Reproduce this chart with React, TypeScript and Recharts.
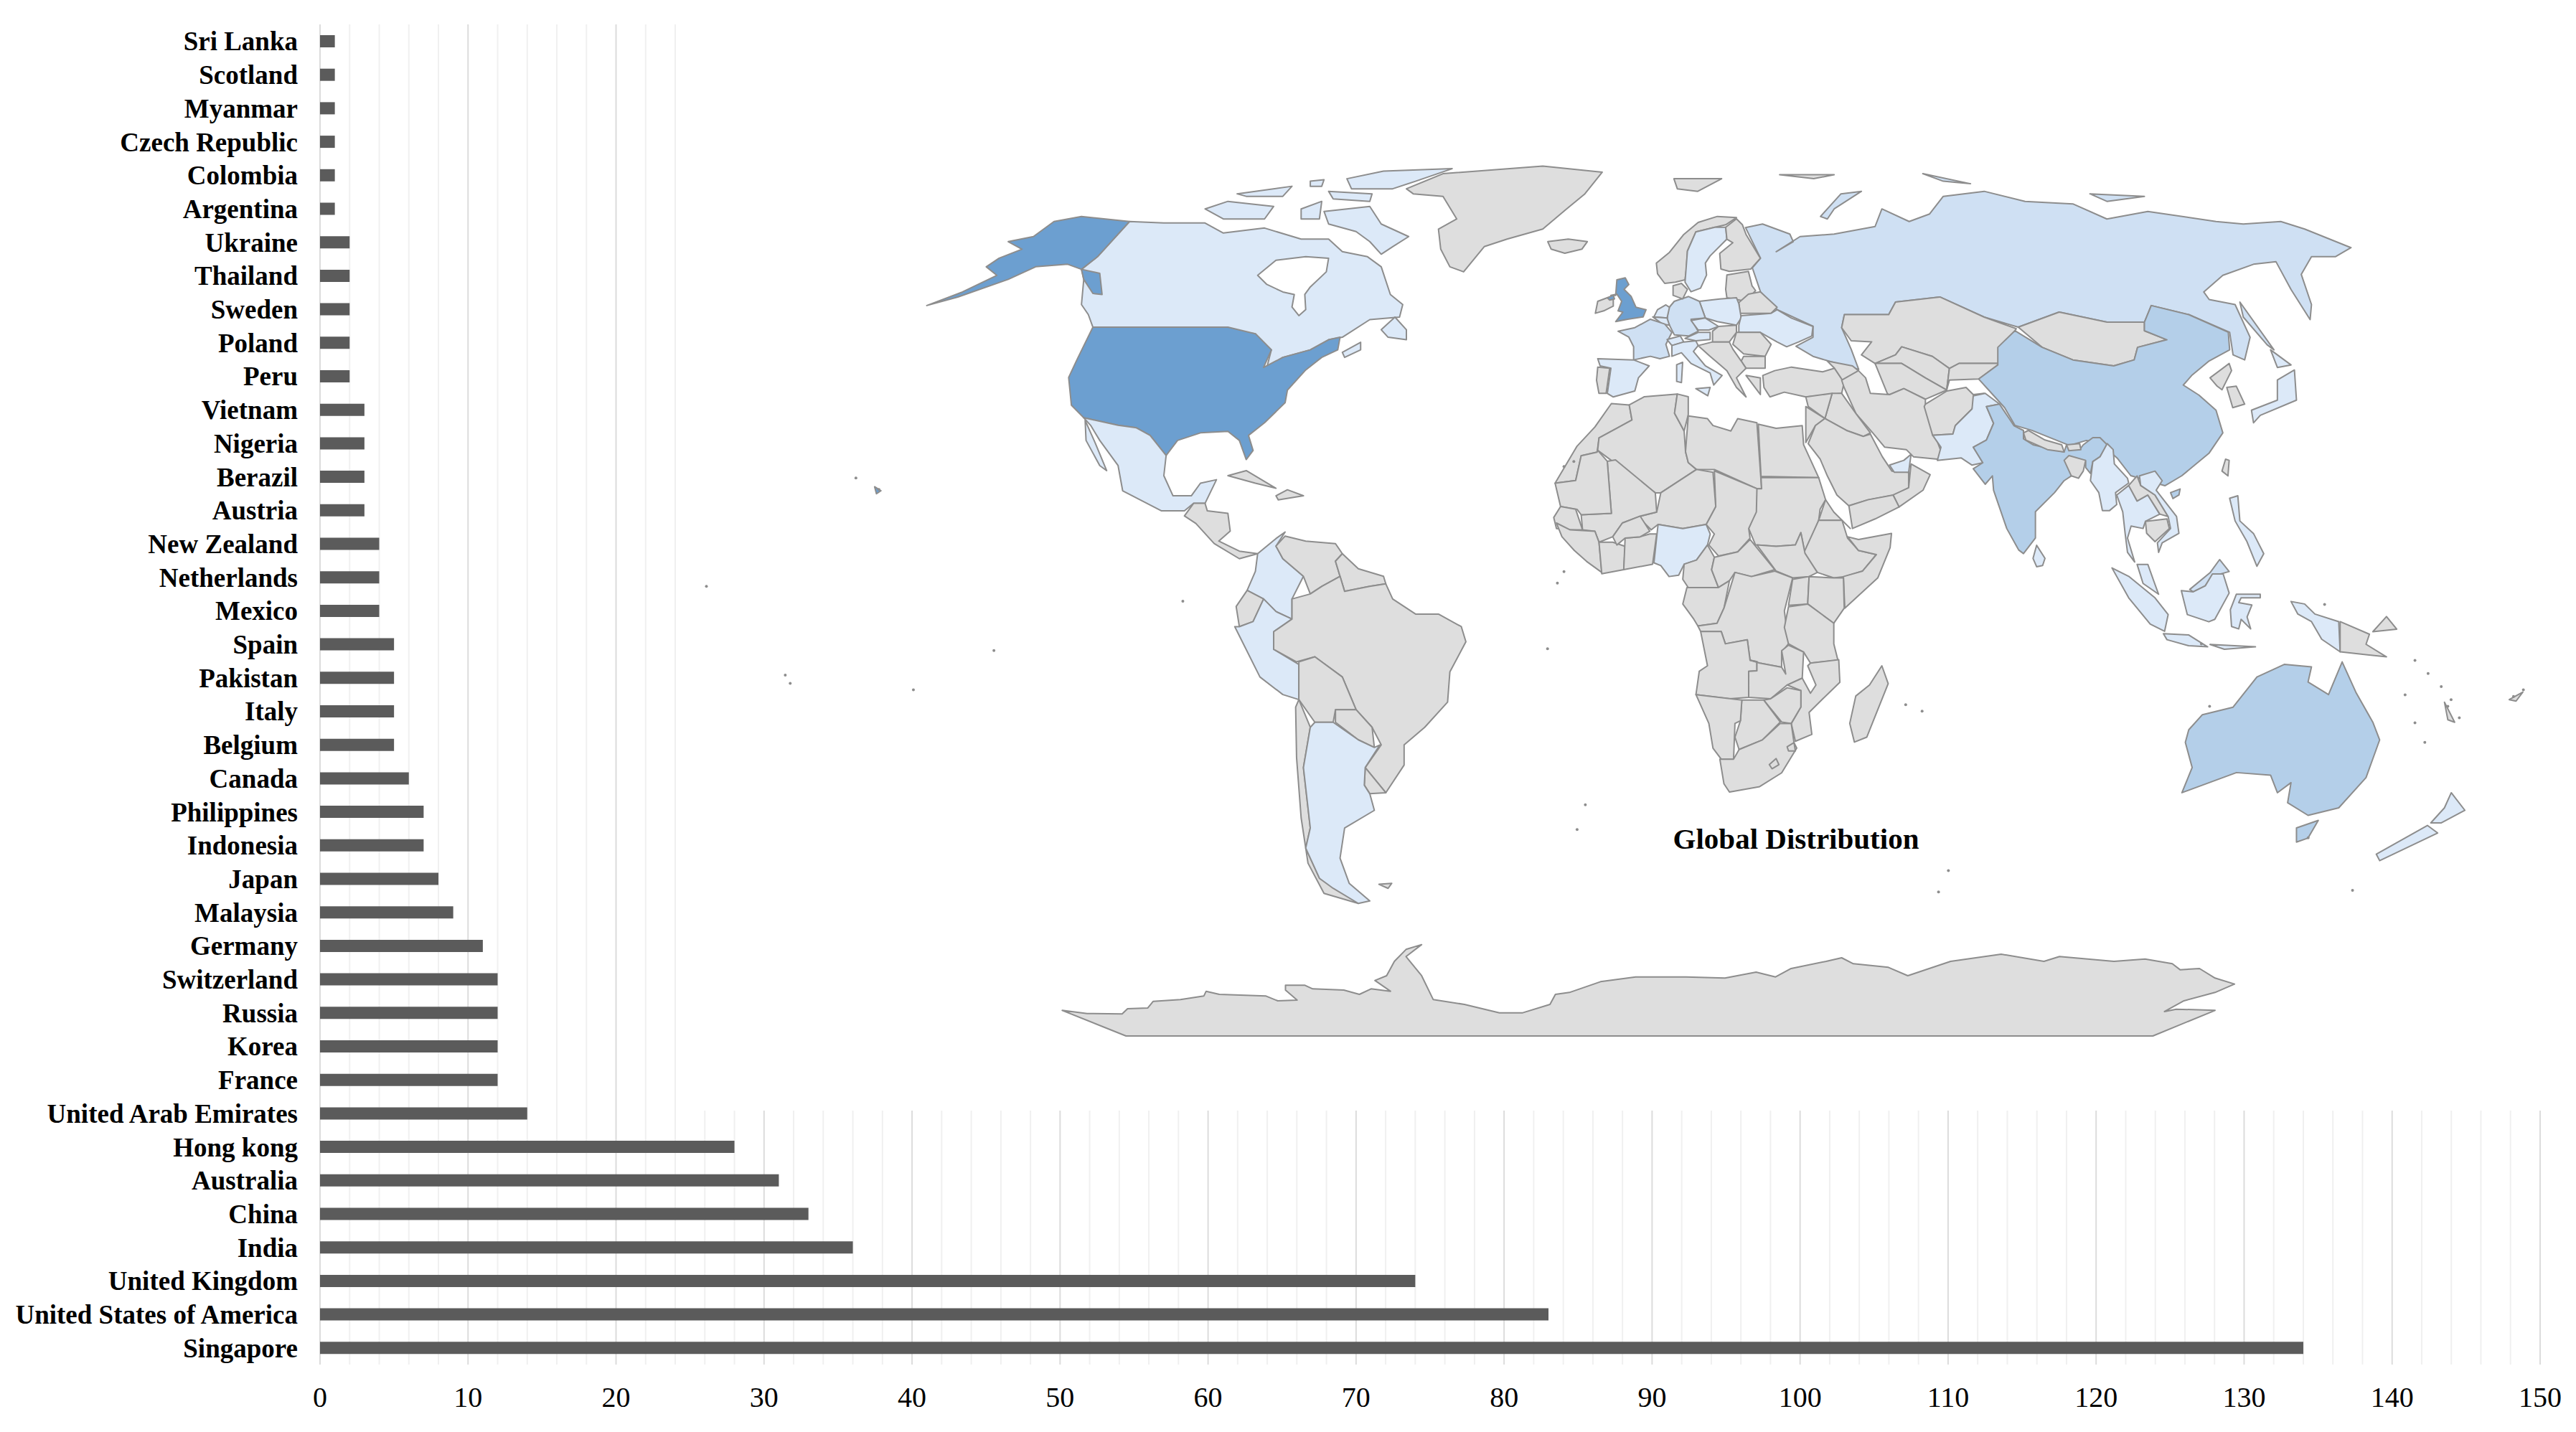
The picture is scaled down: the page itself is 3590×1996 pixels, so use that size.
import { Bar, BarChart, CartesianGrid, XAxis, YAxis } from "recharts";

const countries = [
  "Sri Lanka", "Scotland", "Myanmar", "Czech Republic", "Colombia", "Argentina", "Ukraine", "Thailand",
  "Sweden", "Poland", "Peru", "Vietnam", "Nigeria", "Berazil", "Austria", "New Zealand", "Netherlands",
  "Mexico", "Spain", "Pakistan", "Italy", "Belgium", "Canada", "Philippines", "Indonesia", "Japan",
  "Malaysia", "Germany", "Switzerland", "Russia", "Korea", "France", "United Arab Emirates", "Hong kong",
  "Australia", "China", "India", "United Kingdom", "United States of America", "Singapore",
];
const counts = [
  1, 1, 1, 1, 1, 1, 2, 2, 2, 2, 2, 3, 3, 3, 3, 4, 4, 4, 5, 5, 5, 5, 6, 7, 7, 8, 9, 11, 12, 12, 12, 12, 14,
  28, 31, 33, 36, 74, 83, 134,
];
const majorTicks = [0, 10, 20, 30, 40, 50, 60, 70, 80, 90, 100, 110, 120, 130, 140, 150];
const minorTicks = [
  2, 4, 6, 8, 12, 14, 16, 18, 22, 24, 26, 28, 32, 34, 36, 38, 42, 44, 46, 48, 52, 54, 56, 58, 62, 64, 66, 68,
  72, 74, 76, 78, 82, 84, 86, 88, 92, 94, 96, 98, 102, 104, 106, 108, 112, 114, 116, 118, 122, 124, 126, 128,
  132, 134, 136, 138, 142, 144, 146, 148,
];

const rows = countries.map((name, i) => ({ name, count: counts[i] }));

// map colours
const G = "#dedede";
const L = "#dce9f8";
const M = "#cfe0f3";
const D = "#b4cfe9";
const U = "#6c9fd0";
const W = "#ffffff";

// outlines are traced by hand, each list in the pixel space of one crop of the map
const americas: [string, string][] = [
  [G, "1270,90 1350,60 1568,45 1698,57 1660,100 1620,130 1568,170 1490,190 1440,205 1395,255 1365,245 1345,210 1340,170 1380,150 1350,105 1285,100"],
  [L, "665,155 740,158 830,158 870,178 960,168 1040,190 1100,190 1130,215 1185,225 1215,245 1235,300 1262,320 1255,345 1190,350 1130,385 1100,390 1060,410 1000,425 965,445 975,410 940,378 880,370 880,365 585,365 575,340 560,320 565,270 560,250 595,225"],
  [W, "945,262 985,232 1050,225 1100,228 1095,255 1060,285 1048,300 1050,330 1035,342 1020,325 1025,300 1000,295 965,280"],
  [L, "1090,135 1190,125 1215,160 1275,185 1240,205 1215,220 1190,195 1160,175 1100,160"],
  [L, "1140,70 1220,55 1370,50 1290,75 1240,90 1150,90"],
  [L, "830,130 880,115 980,125 960,150 870,150"],
  [L, "1040,130 1085,115 1080,150 1040,150"],
  [L, "900,100 1020,85 1000,105 920,105"],
  [L, "1060,75 1090,72 1085,85 1060,85"],
  [L, "1100,95 1195,100 1190,115 1110,110"],
  [L, "1215,370 1245,345 1270,370 1270,390 1230,385"],
  [L, "1130,415 1170,395 1170,410 1135,425"],
  [U, "665,155 560,145 500,155 455,185 400,195 430,210 380,228 352,245 375,262 300,295 222,322 290,305 400,270 460,245 530,240 560,250 595,225"],
  [U, "560,250 600,258 605,300 585,298 565,270"],
  [U, "585,365 880,365 940,378 975,410 958,445 1000,425 1060,410 1100,390 1125,385 1120,410 1085,425 1050,450 1010,490 1005,515 960,555 925,580 935,610 920,628 905,590 880,572 820,575 770,590 745,620 710,580 680,565 640,560 565,545 538,520 532,465 550,430"],
  [U, "108,682 122,690 112,696"],
  [L, "565,545 640,560 680,565 710,580 745,620 740,660 760,700 800,700 820,675 855,668 830,715 805,715 785,730 735,730 650,690 640,640 600,590 580,560"],
  [L, "568,550 590,595 615,650 600,640 570,590"],
  [G, "785,740 805,715 830,715 835,730 880,735 885,770 860,790 905,810 945,815 905,825 850,795 810,755"],
  [G, "880,660 920,650 985,685 940,675"],
  [G, "985,700 1010,688 1045,700 990,708"],
  [L, "945,815 985,785 1005,772 985,800 1000,825 1045,860 1020,905 1020,945 985,930 958,905 922,888 940,850"],
  [G, "985,800 1005,780 1050,790 1115,795 1130,815 1115,830 1125,860 1085,880 1060,895 1045,860 1000,825"],
  [G, "1115,830 1130,815 1165,845 1220,860 1225,875 1190,880 1135,890 1125,860"],
  [G, "922,888 958,905 935,950 905,960 898,920"],
  [L, "905,960 935,950 958,905 985,930 1020,945 980,970 980,1005 1035,1035 1035,1105 1000,1095 950,1060 895,960"],
  [G, "1020,905 1060,895 1085,880 1125,860 1135,890 1190,880 1225,875 1240,905 1290,935 1340,935 1390,960 1400,990 1365,1050 1360,1110 1310,1160 1265,1195 1265,1235 1225,1290 1180,1240 1215,1195 1195,1160 1160,1125 1130,1060 1070,1020 1030,1030 980,1005 980,970 1020,945"],
  [G, "1035,1030 1070,1020 1130,1060 1160,1125 1115,1125 1110,1150 1070,1150 1035,1105"],
  [G, "1115,1125 1160,1125 1195,1160 1200,1200 1165,1185 1115,1150"],
  [G, "1180,1240 1225,1290 1190,1292 1178,1275"],
  [G, "1035,1105 1060,1160 1045,1240 1060,1360 1050,1400 1080,1460 1165,1510 1090,1490 1055,1430 1040,1340 1030,1220 1028,1120"],
  [L, "1070,1150 1110,1150 1165,1185 1200,1200 1212,1195 1180,1240 1178,1275 1190,1292 1200,1325 1135,1360 1125,1420 1145,1470 1190,1505 1165,1510 1110,1480 1080,1460 1050,1400 1060,1360 1045,1240 1060,1160"],
  [G, "1210,1472 1238,1470 1230,1480"],
];

const northAsiaOceania: [string, string][] = [
  [G, "60,195 90,190 118,195 110,210 85,218 65,210"],
  [G, "245,70 315,70 280,95 250,90"],
  [G, "400,62 480,62 450,70"],
  [M, "350,167 375,160 415,180 420,195 395,215 430,185 480,180 540,165 550,130 590,155 620,140 640,105 700,95 760,115 830,120 880,150 940,135 1040,155 1080,160 1135,155 1170,170 1238,207 1215,225 1180,225 1165,260 1180,320 1178,350 1150,290 1128,235 1095,240 1050,262 1022,295 1030,310 1068,320 1090,385 1082,430 1065,420 1060,375 1000,340 945,322 935,355 880,355 810,335 750,365 700,345 635,305 570,315 560,340 495,340 491,366 505,409 516,449 471,432 449,423 424,403 449,385 449,363 396,330 372,295 360,247 372,228"],
  [M, "460,145 490,100 520,95 480,130 470,150"],
  [M, "610,60 680,80 640,75"],
  [M, "855,100 935,105 880,115"],
  [M, "1075,315 1125,410 1115,400 1080,345"],
  [G, "495,340 560,340 570,315 635,305 700,345 747,368 726,413 723,437 663,437 649,447 624,423 579,404 570,420 540,437 520,420 535,394 505,392 491,366"],
  [G, "540,437 570,420 579,404 624,423 649,447 645,490 614,466 579,437"],
  [G, "540,437 579,437 614,466 645,490 614,508 582,487 561,499 558,497"],
  [G, "649,447 663,437 723,437 692,468 649,470 645,490"],
  [G, "750,365 810,335 880,355 935,355 935,372 968,390 925,405 920,430 890,442 830,430 785,405"],
  [D, "692,468 720,440 720,405 745,372 785,405 830,430 890,442 920,430 925,405 968,390 935,372 935,355 945,322 1000,340 1058,375 1060,410 1030,432 1005,460 992,480 1015,500 1040,530 1050,575 1030,615 990,660 965,680 915,660 895,625 870,595 850,590 825,600 770,570 745,560 730,525 710,495"],
  [L, "1060,705 1072,700 1075,750 1095,775 1110,815 1100,840 1085,790 1068,750"],
  [L, "1130,470 1155,450 1158,510 1105,540 1095,555 1092,530 1130,510"],
  [L, "1120,410 1150,440 1130,445"],
  [L, "1150,910 1170,915 1185,935 1220,950 1222,1010 1195,985 1180,950 1160,935"],
  [G, "1222,950 1265,975 1260,995 1290,1020 1222,1010"],
  [G, "1290,940 1305,965 1270,970"],
  [D, "1000,1165 1020,1135 1065,1120 1100,1060 1140,1035 1180,1040 1175,1070 1205,1095 1225,1030 1245,1090 1270,1150 1280,1185 1260,1260 1220,1320 1175,1335 1145,1310 1150,1270 1130,1290 1120,1255 1070,1250 990,1290 1005,1240 995,1190"],
  [D, "1158,1360 1190,1345 1175,1380 1158,1388"],
  [L, "1385,1290 1405,1325 1370,1350 1355,1350 1375,1320"],
  [L, "1350,1355 1365,1370 1280,1425 1275,1412"],
  [G, "1470,1105 1490,1090 1480,1108"],
  [G, "1375,1110 1390,1150 1380,1145"],
];

const europeMideast: [string, string][] = [
  [G, "10,410 20,360 60,345 85,345 85,380 45,400"],
  [U, "75,335 95,335 100,270 135,262 150,290 130,310 160,340 180,385 222,395 210,425 145,435 95,445 125,405 105,400 120,360 100,330"],
  [U, "60,345 85,335 90,350 70,355"],
  [G, "265,200 320,155 380,80 440,30 520,5 600,10 555,40 510,50 430,70 395,150 390,230 385,270 345,280 300,285 270,245"],
  [L, "430,70 510,50 555,50 560,100 490,170 470,200 475,250 450,305 410,320 385,280 395,150"],
  [G, "555,50 600,15 625,40 640,80 700,180 660,225 570,235 535,225 530,160 585,115 560,100"],
  [G, "560,250 650,235 665,295 680,315 640,360 560,345 555,310"],
  [G, "610,365 650,330 700,320 770,385 745,410 615,410"],
  [L, "445,360 530,350 600,345 610,370 620,430 600,460 520,445 470,430"],
  [M, "340,360 400,340 445,360 470,430 410,435 440,485 400,505 340,500 310,440 315,390"],
  [G, "335,295 370,285 395,310 375,350 335,335"],
  [L, "270,395 305,375 320,385 310,430 255,425"],
  [L, "250,425 310,430 320,460 290,455"],
  [M, "105,485 175,470 240,435 300,455 330,490 305,540 320,590 280,600 240,590 170,605 170,550 150,510"],
  [L, "20,600 170,605 235,630 190,680 175,735 85,760 60,745 75,640 30,630"],
  [G, "20,635 70,640 55,745 25,745 15,690"],
  [L, "310,520 365,505 380,530 330,545"],
  [L, "330,545 380,530 430,525 440,545 420,570 470,630 540,670 505,710 490,660 410,620 370,575 330,590"],
  [L, "430,725 490,720 480,755"],
  [L, "350,625 375,615 370,700 350,695"],
  [L, "385,515 440,490 490,490 490,520 430,525"],
  [L, "410,440 470,430 525,465 485,480 440,480"],
  [G, "500,485 525,465 600,460 600,490 570,530 500,530"],
  [L, "610,460 620,420 745,410 770,395 830,430 920,465 915,505 860,530 810,550 770,530 700,490 610,490"],
  [G, "600,490 700,490 745,540 720,590 630,580 585,540"],
  [G, "630,590 720,590 720,640 640,640 620,610"],
  [G, "440,545 500,530 570,530 585,560 620,610 640,640 600,680 640,760 600,720 560,650 490,590"],
  [G, "640,670 700,680 700,750 670,710"],
  [G, "710,670 760,650 830,635 960,655 1010,640 1050,700 1040,745 890,760 800,740 740,760 715,720"],
  [G, "980,610 1085,630 1110,650 1050,700 1010,640"],
  [G, "1040,690 1110,650 1140,680 1160,745 1240,750 1300,725 1390,770 1390,800 1430,920 1460,1000 1440,1020 1340,1010 1310,980 1220,970 1170,910 1100,830 1050,720"],
  [G, "1000,745 1040,745 1100,830 1160,910 1130,925 1060,900 970,850"],
  [G, "890,760 1000,745 970,850 900,800"],
  [G, "890,800 970,850 930,880 890,950"],
  [G, "900,955 930,880 970,850 1060,900 1130,925 1160,915 1210,1010 1250,1070 1320,1075 1320,1140 1260,1170 1150,1190 1070,1215 1020,1170 980,1090 950,1020"],
  [L, "1240,1045 1300,1025 1330,1000 1320,1075 1260,1075"],
  [G, "1330,1040 1410,1085 1380,1150 1280,1220 1255,1170 1320,1140"],
  [G, "1070,1215 1150,1190 1255,1170 1280,1220 1180,1270 1085,1310"],
];

const southAsia: [string, string][] = [
  [G, "100,340 190,285 270,270 300,300 345,295 305,320 295,360 225,430 215,465 130,470 95,350"],
  [L, "130,470 215,465 225,430 295,360 300,305 350,295 410,340 355,350 385,420 355,490 300,520 340,585 295,595 250,565 150,575 165,520"],
  [D, "355,350 410,340 450,400 470,430 510,450 510,485 550,510 680,540 690,510 745,530 760,510 800,480 830,480 860,510 830,560 800,580 790,630 770,605 770,580 700,560 710,640 680,660 640,710 560,790 560,900 510,965 490,950 440,860 385,700 380,640 350,675 300,610 340,585 300,520 355,490 385,420"],
  [G, "510,460 530,450 600,490 670,510 680,540 610,530 520,490"],
  [G, "690,510 745,505 750,530 700,535"],
  [G, "680,575 700,555 770,575 760,620 740,650 710,640"],
  [L, "790,660 800,580 830,560 860,505 885,530 890,590 945,650 950,670 895,710 900,760 870,785 840,785 825,710"],
  [L, "900,720 950,680 985,745 1030,720 1080,800 1020,830 1010,860 960,850 945,900 975,1000 945,960 935,880 925,790"],
  [L, "985,1010 1030,1010 1055,1080 1075,1135 1010,1090"],
  [G, "950,680 985,640 1000,680 1060,720 1115,810 1080,800 1030,720 985,745"],
  [L, "995,640 1060,620 1090,660 1065,700 1150,810 1160,880 1090,920 1075,960 1070,920 1125,860 1115,810 1060,720 1000,680"],
  [G, "1020,830 1110,820 1120,860 1060,915 1025,880"],
  [D, "1125,710 1165,695 1160,720 1135,735"],
  [L, "565,930 600,985 590,1015 565,1020 550,985"],
  [G, "1290,230 1370,170 1380,200 1350,260 1340,280 1320,265"],
  [G, "1360,270 1400,265 1435,340 1385,355"],
  [G, "1355,570 1370,575 1365,640 1340,620"],
  [L, "880,1025 950,1060 1060,1150 1115,1220 1100,1290 1040,1260 950,1150"],
  [L, "1095,1300 1200,1305 1280,1355 1200,1350 1110,1325"],
  [L, "1290,1345 1480,1355 1350,1365"],
  [M, "1205,1115 1290,1045 1330,990 1370,1040 1300,1060 1270,1100 1220,1125"],
  [L, "1170,1120 1220,1125 1270,1100 1300,1050 1345,1050 1370,1130 1310,1240 1285,1250 1195,1220"],
  [L, "1400,1135 1500,1135 1500,1150 1420,1150 1410,1170 1465,1180 1445,1230 1460,1280 1420,1240 1410,1280 1380,1270 1375,1200"],
];

const africa: [string, string][] = [
  [G, "45,375 125,240 190,170 250,85 315,90 325,145 270,175 205,210 198,262 140,275 120,365"],
  [G, "205,210 270,175 325,145 315,90 370,60 490,50 480,120 515,185 520,260 530,300 560,325 430,410 410,410 200,255"],
  [G, "490,50 530,60 530,125 515,185 480,120"],
  [G, "530,130 600,140 620,165 685,185 710,140 780,155 797,395 780,395 625,325 560,325 530,300 520,260"],
  [G, "785,160 850,175 945,165 950,235 1005,355 795,350"],
  [G, "795,355 1005,355 1030,435 1010,470 1005,510 955,630 940,555 920,600 850,605 775,600 750,540 775,480 777,395 797,395"],
  [G, "1030,435 1060,480 1120,540 1090,510 1005,510"],
  [G, "1005,510 1090,510 1110,575 1150,620 1215,635 1165,695 1100,715 1060,720 1000,700 950,630"],
  [G, "1110,570 1150,580 1270,558 1265,610 1220,720 1100,830 1095,715 1165,695 1215,635 1150,620"],
  [G, "780,600 850,605 920,600 940,555 955,630 1000,700 970,715 910,720 850,695"],
  [G, "625,330 780,395 778,480 750,540 755,575 710,625 640,640 605,600 625,560 595,525 630,460"],
  [G, "430,410 560,325 620,335 630,460 595,525 510,540 420,525 395,545 360,510 355,495 415,480"],
  [G, "140,490 250,485 235,295 265,290 410,410 415,480 355,495 290,520 255,570 205,590 190,550 145,545"],
  [G, "45,375 120,365 140,275 198,262 200,255 235,295 250,485 140,490 125,470 65,460"],
  [G, "40,500 65,460 120,470 145,545 100,545 50,540"],
  [G, "50,520 100,545 190,550 205,590 215,700 160,660 115,620 70,570"],
  [G, "205,590 255,590 300,605 295,690 215,705"],
  [G, "300,575 355,570 390,560 415,560 400,670 295,690"],
  [G, "255,570 290,520 355,495 390,550 355,570 300,575 270,600"],
  [L, "420,525 510,540 595,525 610,560 600,600 560,655 515,670 495,710 460,715 430,675 405,665"],
  [G, "515,670 560,655 600,600 625,645 615,690 640,755 530,755 510,725"],
  [G, "625,645 710,625 755,580 845,690 760,715 700,700 680,730 640,755 615,690"],
  [G, "525,755 640,755 680,730 660,830 635,885 565,895 550,870 510,815"],
  [G, "700,700 760,715 845,695 910,720 880,840 895,960 870,990 870,1045 790,1030 755,1020 745,945 665,960 650,915 575,915 565,895 635,885 660,830"],
  [G, "910,725 970,715 965,815 895,820"],
  [G, "970,715 1060,720 1095,720 1098,830 1060,885 965,815"],
  [G, "895,825 965,815 1060,885 1060,960 1075,1020 975,1030 950,990 895,960 880,900"],
  [G, "575,915 650,915 665,960 745,945 755,1020 780,1025 780,1058 750,1060 750,1155 680,1160 558,1145 570,1060 600,1040"],
  [G, "755,1020 790,1030 870,1045 885,1070 870,985 895,965 950,990 945,1085 890,1110 830,1160 750,1155 750,1060 780,1058 780,1025"],
  [G, "975,1030 1078,1018 1082,1100 1020,1160 970,1210 980,1290 920,1315 905,1250 940,1190 940,1130 890,1110 945,1085 975,1140 995,1110 965,1040"],
  [G, "890,1120 940,1130 940,1190 905,1250 870,1245 805,1165 830,1160"],
  [G, "725,1165 805,1165 865,1245 800,1310 715,1345 700,1300 720,1240"],
  [G, "558,1145 725,1165 720,1240 700,1250 695,1380 650,1380 620,1340 605,1250"],
  [G, "645,1380 695,1380 715,1345 800,1310 865,1250 905,1250 915,1320 925,1340 870,1430 790,1480 680,1500 660,1470"],
  [G, "825,1400 850,1378 860,1400 835,1415"],
  [G, "890,1335 915,1320 920,1350 895,1350"],
  [G, "1235,1040 1258,1105 1180,1300 1135,1318 1118,1250 1140,1150 1190,1110"],
];

const antarctica: [string, string][] = [
  [G, "28,385 60,398 105,400 112,378 138,375 145,347 180,340 210,325 213,305 230,318 290,325 305,345 330,342 315,300 315,280 340,280 350,295 390,300 410,318 425,295 450,305 430,260 445,240 455,180 470,130 490,110 470,160 490,240 505,340 545,360 590,395 620,395 655,360 662,318 680,310 720,265 765,245 830,245 880,250 920,225 945,245 965,210 1010,180 1030,165 1045,190 1090,205 1115,240 1170,180 1235,150 1290,180 1310,160 1380,180 1420,170 1455,190 1465,215 1490,210 1510,250 1535,275 1510,310 1470,345 1445,390 1460,380 1510,385 1430,492 110,492"],
];

// tiny islands
const islets = [
  [521, 291], [535, 298], [720, 366], [430, 357], [478, 411], [481, 416], [605, 396], [556, 420], [942, 395],
  [952, 284], [958, 281], [952, 348], [948, 355], [965, 490], [960, 505], [1160, 429], [1170, 433], [1186, 530],
  [1180, 543], [1490, 430], [1497, 437], [1530, 424], [1536, 420], [1432, 542], [1405, 510], [1340, 392], [1345, 430],
  [1415, 368], [1470, 402], [1478, 410], [1486, 418], [1492, 426], [1464, 423], [1470, 440], [1476, 452],
];

const mapFrames = [
  { shapes: americas, transform: "translate(1150 200) scale(0.6378 0.7015)" },
  { shapes: northAsiaOceania, transform: "translate(2100 200) scale(0.9503 0.7015)" },
  { shapes: africa, transform: "translate(2150 530) scale(0.3827)" },
  { shapes: europeMideast, transform: "translate(2220 300) scale(0.3333)" },
  { shapes: southAsia, transform: "translate(2650 450) scale(0.3333)" },
  { shapes: antarctica, transform: "translate(1450 1280) scale(1.0841 0.3333)" },
];

function WorldMap() {
  return (
    <svg width={3590} height={1996} style={{ position: "absolute", left: 0, top: 0 }}>
      <rect x={950} y={0} width={2640} height={1548} fill="#fff" />
      {mapFrames.map((frame, i) => (
        <g key={i} transform={frame.transform}>
          {frame.shapes.map(([fill, points], j) => (
            <polygon
              key={j}
              points={points}
              fill={fill}
              stroke="#8d8d8d"
              strokeWidth={2}
              strokeLinejoin="round"
              vectorEffect="non-scaling-stroke"
            />
          ))}
        </g>
      ))}
      {islets.map(([x, y], i) => (
        <circle key={i} cx={x * 2.2895} cy={y * 2.2895} r={2} fill="#8d8d8d" />
      ))}
      <text
        x={2503}
        y={1183}
        textAnchor="middle"
        fontFamily="'Liberation Serif', serif"
        fontWeight={700}
        fontSize={41}
        fill="#000"
      >
        Global Distribution
      </text>
    </svg>
  );
}

export default function App() {
  return (
    <div style={{ position: "absolute", left: 0, top: 0, width: 3590, height: 1996, background: "#fff", overflow: "hidden" }}>
      <BarChart
        width={3590}
        height={1996}
        data={rows}
        layout="vertical"
        margin={{ top: 34, right: 50, bottom: 0, left: 0 }}
        barCategoryGap={0}
      >
        <CartesianGrid horizontal={false} verticalValues={minorTicks} stroke="#f0f0f0" strokeWidth={2} />
        <CartesianGrid horizontal={false} verticalValues={majorTicks} stroke="#dcdcdc" strokeWidth={2} />
        <XAxis
          type="number"
          domain={[0, 150]}
          ticks={majorTicks}
          interval={0}
          height={94}
          axisLine={false}
          tickLine={false}
          tickMargin={25}
          tick={{ fontFamily: "'Liberation Serif', serif", fontSize: 40, fill: "#000" }}
        />
        <YAxis
          type="category"
          dataKey="name"
          width={446}
          interval={0}
          axisLine={false}
          tickLine={false}
          tickMargin={25}
          tick={{ fontFamily: "'Liberation Serif', serif", fontSize: 37, fontWeight: 700, fill: "#000" }}
        />
        <Bar dataKey="count" fill="#5b5b5b" barSize={17} isAnimationActive={false} />
      </BarChart>
      <WorldMap />
    </div>
  );
}
